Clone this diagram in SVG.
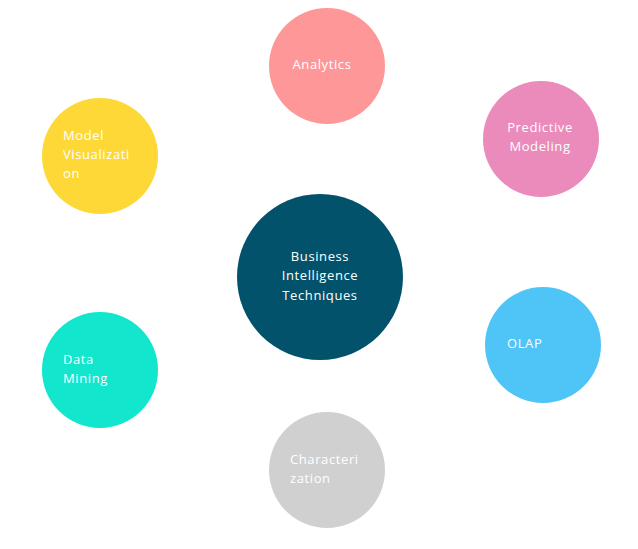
<svg xmlns="http://www.w3.org/2000/svg" width="638" height="549" viewBox="0 0 638 549">
<style>
text{font-family:"Open Sans","Liberation Sans",sans-serif;font-size:13px;fill:#fff;letter-spacing:0.6px;dominant-baseline:middle}
.c{text-anchor:middle}
</style>
<rect width="638" height="549" fill="#fff"/>
<g id="connectors"></g>
<g id="center"><circle cx="320" cy="277" r="83" fill="#02526b"/>
<text x="320" y="258" class="c">Business</text><text x="320" y="277" class="c">Intelligence</text><text x="320" y="297" class="c">Techniques</text></g>
<g id="analytics"><circle cx="327" cy="66" r="58" fill="#fe9898"/><text x="322" y="66" class="c">Analytics</text></g>
<g id="predictive"><circle cx="541" cy="139" r="58" fill="#ea8bbb"/><text x="540" y="129" class="c">Predictive</text><text x="540" y="148" class="c">Modeling</text></g>
<g id="olap"><circle cx="543" cy="345" r="58" fill="#4fc4f7"/><text x="507" y="345">OLAP</text></g>
<g id="characterization"><circle cx="327" cy="470" r="58" fill="#d0d0d0"/><text x="290" y="461">Characteri</text><text x="290" y="480">zation</text></g>
<g id="datamining"><circle cx="100" cy="370" r="58" fill="#12e6cd"/><text x="63" y="361">Data</text><text x="63" y="380">Mining</text></g>
<g id="modelvis"><circle cx="100" cy="156" r="58" fill="#fed836"/><text x="63" y="137">Model</text><text x="63" y="156">Visualizati</text><text x="63" y="175">on</text></g>
</svg>
